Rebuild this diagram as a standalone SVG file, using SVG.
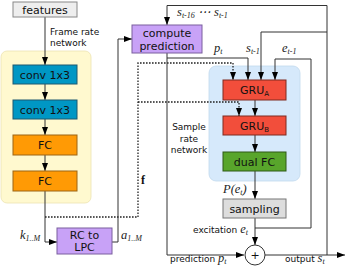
<svg xmlns="http://www.w3.org/2000/svg" width="347" height="268" viewBox="0 0 347 268">
<style>
.box{stroke-width:1}
.lbl{font-family:"DejaVu Sans","Liberation Sans",sans-serif;font-size:11px;fill:#111;text-anchor:middle}
.ann{font-family:"DejaVu Sans","Liberation Sans",sans-serif;font-size:9px;fill:#111}
.m{font-family:"Liberation Serif","DejaVu Serif",serif;font-style:italic;font-size:12.5px;fill:#222}
.s{font-size:8px}
.ln{fill:none;stroke:#333;stroke-width:1}
.dt{fill:none;stroke:#222;stroke-width:1.3;stroke-dasharray:1.6 1.4}
</style>
<defs>
<marker id="ah" viewBox="0 0 8 6" refX="8" refY="3" markerWidth="8" markerHeight="6" markerUnits="userSpaceOnUse" orient="auto">
<path d="M0,0 L8,3 L0,6 z" fill="#000"/>
</marker>
</defs>

<g id="frame-rate-bg">
<rect x="1" y="51" width="90" height="152" rx="6" fill="#fff9cf" stroke="#ece3b2" stroke-width="0.8"/>
</g>
<g id="sample-rate-bg">
<rect x="209" y="66" width="91" height="115" rx="7" fill="#d6e9fb" stroke="#c2d9ee" stroke-width="0.8"/>
</g>

<g id="connectors">
<line class="ln" x1="45" y1="17" x2="45" y2="65" marker-end="url(#ah)"/>
<line class="ln" x1="45" y1="84" x2="45" y2="100" marker-end="url(#ah)"/>
<line class="ln" x1="45" y1="119" x2="45" y2="135" marker-end="url(#ah)"/>
<line class="ln" x1="45" y1="155" x2="45" y2="171" marker-end="url(#ah)"/>
<polyline class="ln" points="45,191 45,242 57,242" marker-end="url(#ah)"/>
<polyline class="dt" points="45,217 138,217 138,63 233,63 233,80" marker-end="url(#ah)"/>
<polyline class="dt" points="138,102 239,102 239,116" marker-end="url(#ah)"/>
<polyline class="ln" points="112,242 118,242 118,39 132,39" marker-end="url(#ah)"/>
<polyline class="ln" points="327,255 327,5.5 167,5.5 167,25" marker-end="url(#ah)"/>
<polyline class="ln" points="327,32 261,32 261,80" marker-end="url(#ah)"/>
<polyline class="ln" points="167,53 167,255 244,255" marker-end="url(#ah)"/>
<polyline class="ln" points="167,58 248,58 248,80" marker-end="url(#ah)"/>
<polyline class="ln" points="255,228 311,228 311,59 275,59 275,80" marker-end="url(#ah)"/>
<line class="ln" x1="255" y1="100" x2="255" y2="116" marker-end="url(#ah)"/>
<line class="ln" x1="255" y1="135" x2="255" y2="152" marker-end="url(#ah)"/>
<line class="ln" x1="255" y1="171" x2="255" y2="199" marker-end="url(#ah)"/>
<line class="ln" x1="255" y1="218" x2="255" y2="245" marker-end="url(#ah)"/>
<line class="ln" x1="265" y1="255" x2="345" y2="255" marker-end="url(#ah)"/>
</g>

<g id="features">
<rect class="box" x="13" y="2" width="64" height="15" fill="#eeeeee" stroke="#888"/>
<text class="lbl" x="45" y="13.5">features</text>
</g>
<g id="frame-rate-label">
<text class="ann" x="50" y="35">Frame rate</text>
<text class="ann" x="50" y="46">network</text>
</g>
<g id="conv1">
<rect class="box" x="13" y="65" width="64" height="19" fill="#0097c4" stroke="#1d5870"/>
<text class="lbl" x="45" y="78.5">conv 1x3</text>
</g>
<g id="conv2">
<rect class="box" x="13" y="100" width="64" height="19" fill="#0097c4" stroke="#1d5870"/>
<text class="lbl" x="45" y="113.5">conv 1x3</text>
</g>
<g id="fc1">
<rect class="box" x="13" y="135" width="64" height="20" fill="#ff9a05" stroke="#9c6414"/>
<text class="lbl" x="45" y="149">FC</text>
</g>
<g id="fc2">
<rect class="box" x="13" y="171" width="64" height="20" fill="#ff9a05" stroke="#9c6414"/>
<text class="lbl" x="45" y="185">FC</text>
</g>
<g id="f-label">
<text x="141" y="184" style="font-family:'Liberation Serif','DejaVu Serif',serif;font-weight:bold;font-size:12px;fill:#111">f</text>
</g>
<g id="rc-to-lpc">
<rect class="box" x="57" y="228" width="55" height="26" fill="#c8a2f7" stroke="#7a5e9e"/>
<text class="lbl" x="84.5" y="238.5">RC to</text>
<text class="lbl" x="84.5" y="250.5">LPC</text>
</g>
<g id="k-label">
<text class="m" x="20" y="239">k<tspan class="s" dy="2">1..M</tspan></text>
</g>
<g id="a-label">
<text class="m" x="121" y="239">a<tspan class="s" dy="2">1..M</tspan></text>
</g>
<g id="compute-prediction">
<rect class="box" x="132" y="25" width="70" height="28" fill="#c8a2f7" stroke="#7a5e9e"/>
<text class="lbl" x="167" y="37">compute</text>
<text class="lbl" x="167" y="50">prediction</text>
</g>
<g id="s-history-label">
<text class="m" x="177" y="16">s<tspan class="s" dy="2">t-16</tspan><tspan dy="-2"> ⋯ s</tspan><tspan class="s" dy="2">t-1</tspan></text>
</g>
<g id="pt-label">
<text class="m" x="214" y="52">p<tspan class="s" dy="2">t</tspan></text>
</g>
<g id="st1-label">
<text class="m" x="246" y="52">s<tspan class="s" dy="2">t-1</tspan></text>
</g>
<g id="et1-label">
<text class="m" x="282" y="52">e<tspan class="s" dy="2">t-1</tspan></text>
</g>
<g id="sample-rate-label">
<text class="ann" x="189" y="130" text-anchor="middle">Sample</text>
<text class="ann" x="189" y="141.5" text-anchor="middle">rate</text>
<text class="ann" x="189" y="153" text-anchor="middle">network</text>
</g>
<g id="gru-a">
<rect class="box" x="223" y="80" width="63" height="20" fill="#f24e3b" stroke="#7e2a20"/>
<text class="lbl" x="254.5" y="94">GRU<tspan style="font-size:7px" dy="2">A</tspan></text>
</g>
<g id="gru-b">
<rect class="box" x="223" y="116" width="63" height="19" fill="#f24e3b" stroke="#7e2a20"/>
<text class="lbl" x="254.5" y="129.5">GRU<tspan style="font-size:7px" dy="2">B</tspan></text>
</g>
<g id="dual-fc">
<rect class="box" x="223" y="152" width="63" height="19" fill="#58a52b" stroke="#2e5a17"/>
<text class="lbl" x="254.5" y="165.5">dual FC</text>
</g>
<g id="pet-label">
<text class="m" x="223" y="193">P(e<tspan class="s" dy="2">t</tspan><tspan dy="-2">)</tspan></text>
</g>
<g id="sampling">
<rect class="box" x="223" y="199" width="63" height="19" fill="#dddddd" stroke="#777"/>
<text class="lbl" x="254.5" y="212.5">sampling</text>
</g>
<g id="excitation-label">
<text class="ann" x="193" y="233">excitation <tspan class="m">e</tspan><tspan class="m s" dy="2">t</tspan></text>
</g>
<g id="sum">
<circle cx="255" cy="255" r="10" fill="#fff" stroke="#333" stroke-width="1"/>
<text x="255" y="259" style="font-family:'DejaVu Sans',sans-serif;font-size:11px;text-anchor:middle;fill:#111">+</text>
</g>
<g id="prediction-label">
<text class="ann" x="170" y="262">prediction <tspan class="m">p</tspan><tspan class="m s" dy="2">t</tspan></text>
</g>
<g id="output-label">
<text class="ann" x="285" y="262">output <tspan class="m">s</tspan><tspan class="m s" dy="2">t</tspan></text>
</g>
</svg>
